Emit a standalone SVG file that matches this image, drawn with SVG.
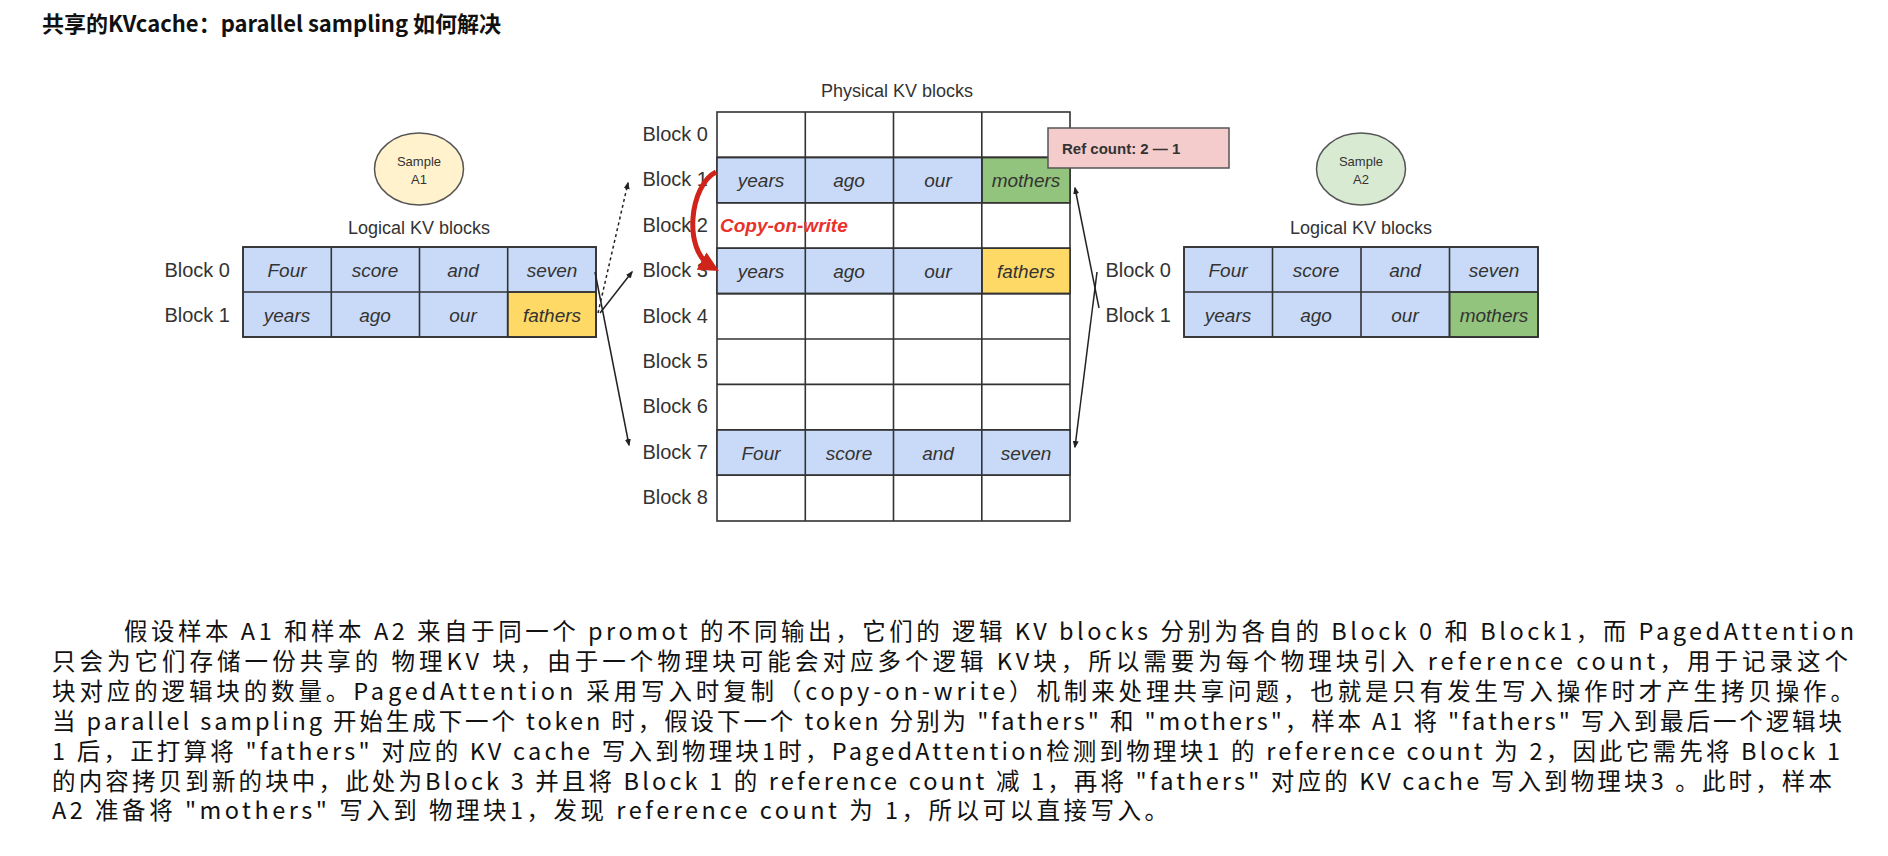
<svg xmlns="http://www.w3.org/2000/svg" width="1888" height="856" viewBox="0 0 1888 856">
<style>
.t{font-family:"Liberation Sans",Arial,sans-serif;fill:#333}
.lbl{font-size:20px;text-anchor:end}
.cw{font-size:19px;font-style:italic;text-anchor:middle;dominant-baseline:central}
.hd{font-size:18px;text-anchor:middle}
.cell{stroke:#333;stroke-width:1.6}
.b{fill:#c9daf8}.w{fill:#fff}.g{fill:#93c47d}.y{fill:#ffd966}
.ln{stroke:#222;stroke-width:1.5;fill:none}
.p{font-family:"Noto Sans CJK SC","Noto Sans",sans-serif;font-size:23.5px;fill:#111}
</style>
<defs>
<marker id="dot" viewBox="0 0 10 10" refX="8" refY="5" markerWidth="5" markerHeight="5" orient="auto"><path d="M0,1 L10,5 L0,9 z" fill="#222"/></marker>
<marker id="red" viewBox="0 0 10 10" refX="6" refY="5" markerWidth="4" markerHeight="4" orient="auto"><path d="M0,0 L10,5 L0,10 z" fill="#d0241a"/></marker>
</defs>
<rect width="1888" height="856" fill="#fff"/>
<text x="42" y="32" font-family="'Noto Sans CJK SC','Noto Sans',sans-serif" font-size="22" font-weight="bold" fill="#111">共享的KVcache：parallel sampling 如何解决</text>

<g id="physical">
<text class="t hd" x="897" y="97">Physical KV blocks</text>
<g class="t lbl">
<text x="708" y="141">Block 0</text><text x="708" y="186">Block 1</text><text x="708" y="232">Block 2</text>
<text x="708" y="277">Block 3</text><text x="708" y="323">Block 4</text><text x="708" y="368">Block 5</text>
<text x="708" y="413">Block 6</text><text x="708" y="459">Block 7</text><text x="708" y="504">Block 8</text>
</g>
<g class="cell">
<rect class="w" x="717" y="112" width="353" height="409"/>
<rect class="b" x="717" y="157.4" width="265" height="45.4"/><rect class="g" x="982" y="157.4" width="88" height="45.4"/>
<rect class="b" x="717" y="248.2" width="265" height="45.4"/><rect class="y" x="982" y="248.2" width="88" height="45.4"/>
<rect class="b" x="717" y="429.8" width="353" height="45.4"/>
<path d="M805.3 112V521M893.5 112V521M981.8 112V521M717 157.4H1070M717 202.8H1070M717 248.2H1070M717 293.6H1070M717 339H1070M717 384.4H1070M717 429.8H1070M717 475.2H1070" fill="none"/>
</g>
<g class="t cw">
<text x="761" y="180">years</text><text x="849" y="180">ago</text><text x="938" y="180">our</text><text x="1026" y="180">mothers</text>
<text x="761" y="271">years</text><text x="849" y="271">ago</text><text x="938" y="271">our</text><text x="1026" y="271">fathers</text>
<text x="761" y="453">Four</text><text x="849" y="453">score</text><text x="938" y="453">and</text><text x="1026" y="453">seven</text>
</g>
</g>

<g id="refcount">
<rect x="1048" y="128" width="181" height="40" fill="#f4cccc" stroke="#555" stroke-width="1.5"/>
<text class="t" x="1062" y="154" font-size="15" font-weight="bold">Ref count: 2 — 1</text>
</g>

<g id="sampleA1">
<ellipse cx="419" cy="169" rx="44.5" ry="36" fill="#fff2cc" stroke="#555" stroke-width="1.5"/>
<text class="t" x="419" y="166" font-size="13" text-anchor="middle">Sample</text>
<text class="t" x="419" y="184" font-size="13" text-anchor="middle">A1</text>
<text class="t hd" x="419" y="234">Logical KV blocks</text>
<text class="t lbl" x="230" y="277">Block 0</text><text class="t lbl" x="230" y="322">Block 1</text>
<g class="cell">
<rect class="b" x="243" y="247" width="353" height="90"/><rect class="y" x="507.7" y="292" width="88.3" height="45"/>
<rect x="243" y="247" width="353" height="90" fill="none"/>
<path d="M331.3 247V337M419.5 247V337M507.7 247V337M243 292H596" fill="none"/>
</g>
<g class="t cw">
<text x="287" y="270">Four</text><text x="375" y="270">score</text><text x="463" y="270">and</text><text x="552" y="270">seven</text>
<text x="287" y="315">years</text><text x="375" y="315">ago</text><text x="463" y="315">our</text><text x="552" y="315">fathers</text>
</g>
</g>

<g id="sampleA2">
<ellipse cx="1361" cy="169" rx="44.5" ry="36" fill="#d9ead3" stroke="#555" stroke-width="1.5"/>
<text class="t" x="1361" y="166" font-size="13" text-anchor="middle">Sample</text>
<text class="t" x="1361" y="184" font-size="13" text-anchor="middle">A2</text>
<text class="t hd" x="1361" y="234">Logical KV blocks</text>
<text class="t lbl" x="1171" y="277">Block 0</text><text class="t lbl" x="1171" y="322">Block 1</text>
<g class="cell">
<rect class="b" x="1184" y="247" width="354" height="90"/><rect class="g" x="1449.5" y="292" width="88.5" height="45"/>
<rect x="1184" y="247" width="354" height="90" fill="none"/>
<path d="M1272.5 247V337M1361 247V337M1449.5 247V337M1184 292H1538" fill="none"/>
</g>
<g class="t cw">
<text x="1228" y="270">Four</text><text x="1316" y="270">score</text><text x="1405" y="270">and</text><text x="1494" y="270">seven</text>
<text x="1228" y="315">years</text><text x="1316" y="315">ago</text><text x="1405" y="315">our</text><text x="1494" y="315">mothers</text>
</g>
</g>

<g id="connectors">
<path class="ln" d="M598 313L628 183" stroke-dasharray="3,3" marker-end="url(#dot)"/>
<path class="ln" d="M600 313L632 272" marker-end="url(#dot)"/>
<path class="ln" d="M595 272L629 445" marker-end="url(#dot)"/>
<path class="ln" d="M1097 272L1075 447" marker-end="url(#dot)"/>
<path class="ln" d="M1099 308L1075 188" marker-end="url(#dot)"/>
<path d="M716 172C690 185 682 250 712 267" fill="none" stroke="#d0241a" stroke-width="5" marker-end="url(#red)"/>
<text x="720" y="232" font-family="'Liberation Sans',Arial,sans-serif" font-size="19" font-weight="bold" font-style="italic" fill="#e8322a">Copy-on-write</text>
</g>

<g id="paragraph" class="p">
<text x="124" y="640" textLength="1730" lengthAdjust="spacing">假设样本 A1 和样本 A2 来自于同一个 promot 的不同输出，它们的 逻辑 KV blocks 分别为各自的 Block 0 和 Block1，而 PagedAttention</text>
<text x="52" y="670" textLength="1796" lengthAdjust="spacing">只会为它们存储一份共享的 物理KV 块，由于一个物理块可能会对应多个逻辑 KV块，所以需要为每个物理块引入 reference count，用于记录这个</text>
<text x="52" y="700" textLength="1802" lengthAdjust="spacing">块对应的逻辑块的数量。PagedAttention 采用写入时复制（copy-on-write）机制来处理共享问题，也就是只有发生写入操作时才产生拷贝操作。</text>
<text x="52" y="730" textLength="1790" lengthAdjust="spacing">当 parallel sampling 开始生成下一个 token 时，假设下一个 token 分别为 "fathers" 和 "mothers"，样本 A1 将 "fathers" 写入到最后一个逻辑块</text>
<text x="52" y="760" textLength="1788" lengthAdjust="spacing">1 后，正打算将 "fathers" 对应的 KV cache 写入到物理块1时，PagedAttention检测到物理块1 的 reference count 为 2，因此它需先将 Block 1</text>
<text x="52" y="790" textLength="1780" lengthAdjust="spacing">的内容拷贝到新的块中，此处为Block 3 并且将 Block 1 的 reference count 减 1，再将 "fathers" 对应的 KV cache 写入到物理块3 。此时，样本</text>
<text x="52" y="819" textLength="1116" lengthAdjust="spacing">A2 准备将 "mothers" 写入到 物理块1，发现 reference count 为 1，所以可以直接写入。</text>
</g>
</svg>
